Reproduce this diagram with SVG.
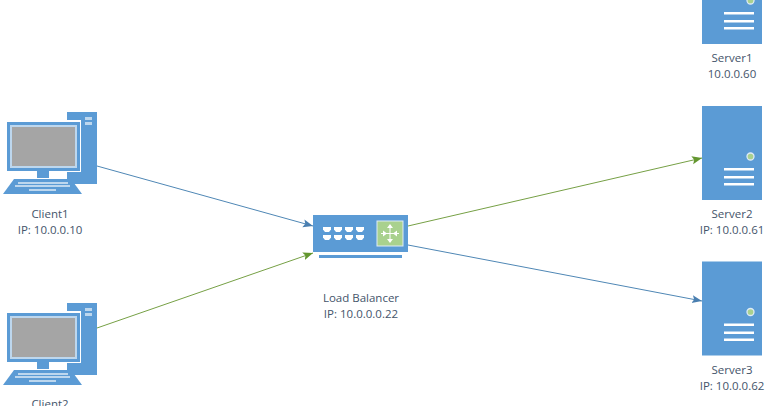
<svg xmlns="http://www.w3.org/2000/svg" width="773" height="406" viewBox="0 0 773 406">
<style>
.b{fill:#5b9bd5}.w{fill:#fff}.lb{fill:#bdd7ee}.g{fill:#a5a5a5}.dot{fill:#a9d18e;stroke:#deebf7;stroke-width:1.3}
.t{font-family:"Open Sans","Noto Sans",sans-serif;font-size:11.500px;fill:#44546a;text-anchor:middle}
.c{fill:none;stroke-width:1}
.cb{stroke:#4f87b5}.cg{stroke:#76a045}
</style>
<defs>
<marker id="ab" markerUnits="userSpaceOnUse" markerWidth="11" markerHeight="9" refX="10" refY="4" orient="auto"><path d="M0 0L10 4L0 8L2 4Z" fill="#4a7fb0"/></marker>
<marker id="ag" markerUnits="userSpaceOnUse" markerWidth="11" markerHeight="9" refX="10" refY="4" orient="auto"><path d="M0 0L10 4L0 8L2 4Z" fill="#63962f"/></marker>
<path id="port" d="M0 0H8V2.500L6 5H2L0 2.500Z" fill="#fff"/>
<g id="pc">
<rect class="b" x="67" y="112" width="30" height="72"/>
<rect class="lb" x="85" y="117" width="7" height="3"/>
<rect class="lb" x="85" y="122" width="7" height="3"/>
<rect class="w" x="6" y="120" width="75" height="52"/>
<rect class="b" x="7" y="122" width="73" height="49"/>
<rect class="lb" x="10" y="125" width="67" height="43"/>
<rect class="g" x="12" y="127" width="63" height="39"/>
<rect class="b" x="37" y="171" width="12" height="7"/>
<path class="b" d="M14 179H71L82 194H3Z"/>
<g class="lb">
<rect x="18" y="182" width="50" height="2"/>
<rect x="15" y="185" width="55" height="2"/>
<rect x="29" y="189" width="27" height="2"/>
</g>
</g>
<g id="srv">
<rect class="b" x="702" y="0" width="60" height="94"/>
<circle class="dot" cx="750.500" cy="50.500" r="3.500"/>
<rect class="w" x="724" y="62" width="30" height="2.500"/>
<rect class="w" x="724" y="70" width="30" height="2.500"/>
<rect class="w" x="724" y="77" width="30" height="2.500"/>
</g>
</defs>
<g id="connectors">
<path class="c cb" d="M97 166L313 226" marker-end="url(#ab)"/>
<path class="c cg" d="M97 328L313 253" marker-end="url(#ag)"/>
<path class="c cg" d="M408 226L702 158" marker-end="url(#ag)"/>
<path class="c cb" d="M408 245L702 301" marker-end="url(#ab)"/>
</g>
<g id="client1"><use href="#pc"/>
<text class="t" x="50" y="218">Client1</text><text class="t" x="50" y="234">IP: 10.0.0.10</text></g>
<g id="client2"><use href="#pc" y="191"/>
<text class="t" x="50" y="408">Client2</text></g>
<g id="load-balancer">
<rect class="b" x="313" y="215" width="95" height="37"/>
<rect class="b" x="319" y="255" width="83" height="3"/>
<use href="#port" x="323" y="227"/><use href="#port" x="334" y="227"/><use href="#port" x="345" y="227"/><use href="#port" x="356" y="227"/>
<use href="#port" x="323" y="235"/><use href="#port" x="334" y="235"/><use href="#port" x="345" y="235"/><use href="#port" x="356" y="235"/>
<rect x="377" y="221" width="26" height="25" fill="#a9d18e" stroke="#deebf7" stroke-width="1"/>
<path d="M390 225V242M381 233.500H399" fill="none" stroke="#fff" stroke-width="1"/>
<path d="M390 224l-3 4h6ZM390 243l-3-4h6ZM387 233.500l-4-3v6ZM393 233.500l4-3v6Z" fill="#fff"/>
<text class="t" x="361" y="302">Load Balancer</text><text class="t" x="361" y="318">IP: 10.0.0.0.22</text></g>
<g id="server1"><use href="#srv" y="-50"/>
<text class="t" x="732" y="62">Server1</text><text class="t" x="732" y="78">10.0.0.60</text></g>
<g id="server2"><use href="#srv" y="106"/>
<text class="t" x="732" y="218">Server2</text><text class="t" x="732" y="234">IP: 10.0.0.61</text></g>
<g id="server3"><use href="#srv" y="261.500"/>
<text class="t" x="732" y="374">Server3</text><text class="t" x="732" y="390">IP: 10.0.0.62</text></g>
</svg>
